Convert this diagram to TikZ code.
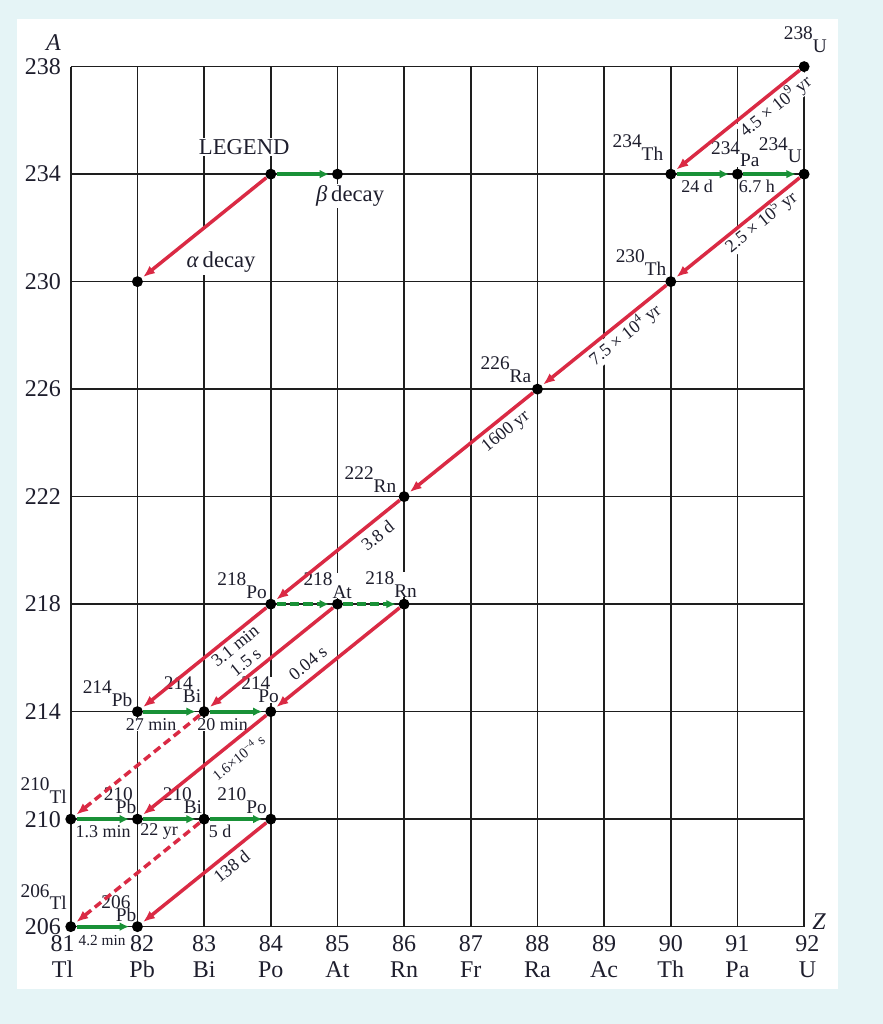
\documentclass[tikz,border=0pt]{standalone}
\usepackage{fontspec}
\setmainfont{Liberation Serif}
\usetikzlibrary{arrows.meta}
\definecolor{bgc}{RGB}{229,244,246}
\definecolor{redc}{RGB}{218,42,68}
\definecolor{grnc}{RGB}{25,145,55}
\definecolor{txtc}{RGB}{30,30,45}
\definecolor{gridc}{RGB}{30,30,30}
\newcommand{\isot}[3][0pt]{\raisebox{9.5pt}{#2}\kern#1\relax #3}
\pgfdeclarelayer{bg}
\pgfdeclarelayer{lab}
\pgfdeclarelayer{top}
\pgfsetlayers{bg,lab,main,top}
\begin{document}
\begin{tikzpicture}[x=50pt,y=20.156pt,
  isodot/.style={circle,fill=black,inner sep=0pt,minimum size=8.2pt},
  adecay/.style={draw=redc,line width=2.6pt,-{Latex[length=9pt,width=7pt]},shorten >=1pt},
  adecayd/.style={adecay,dash pattern=on 6pt off 3.5pt},
  bdecay/.style={draw=grnc,line width=3pt,-{Latex[length=7pt,width=6.5pt]},shorten >=2pt},
  bdecayd/.style={bdecay,dash pattern=on 7pt off 3pt},
  isol/.style={font=\fontsize{14.5}{14.5}\selectfont,text=txtc,inner sep=0pt,fill=white,anchor=south east},
  tlab/.style={font=\fontsize{13.5}{13.5}\selectfont,text=txtc,inner sep=0.5pt,fill=white},
  rlab/.style={tlab,rotate=38.88},
  axlab/.style={font=\fontsize{18}{18}\selectfont,text=txtc,inner sep=0pt},
  leglab/.style={font=\fontsize{17}{17}\selectfont,text=txtc,inner sep=1pt,fill=white},
  gridl/.style={draw=gridc,line width=1.25pt}
]
\useasboundingbox (79.9395,202.38) rectangle (93.184,240.482);

% dots
\begin{pgfonlayer}{top}
\foreach \n/\z/\a in {U238/92/238, Th234/90/234, Pa234/91/234, U234/92/234, Th230/90/230,
  Ra226/88/226, Rn222/86/222, Po218/84/218, At218/85/218, Rn218/86/218,
  Pb214/82/214, Bi214/83/214, Po214/84/214, Tl210/81/210, Pb210/82/210,
  Bi210/83/210, Po210/84/210, Tl206/81/206, Pb206/82/206, L1/84/234, L2/85/234, L3/82/230}
  \node[isodot] (\n) at (\z,\a) {};
\end{pgfonlayer}

% background and grid
\begin{pgfonlayer}{bg}
\fill[bgc] (79.9395,202.38) rectangle (93.184,240.482);
\fill[white] (80.195,203.68) rectangle (92.509,239.775);
\foreach \z in {81,...,92} \draw[gridl] (\z,206) -- (\z,238);
\foreach \a in {206,210,...,238} \draw[gridl] (81,\a) -- (92,\a);
\end{pgfonlayer}

% labels
\begin{pgfonlayer}{lab}
\foreach \a in {206,210,...,238} \node[axlab,anchor=east] (ya\a) at (80.855,\a) {\a};
\node[axlab,anchor=east] (yA) at (80.855,238.9) {\textit{A}};
\foreach \z/\x/\e in {81/80.877/Tl, 82/82.07/Pb, 83/83/Bi, 84/84/Po, 85/85/At, 86/86/Rn,
  87/87/Fr, 88/88/Ra, 89/89/Ac, 90/90/Th, 91/91/Pa, 92/92.05/U} {
  \node[axlab,anchor=base] (zn\z) at (\x,205.06) {\z};
  \node[axlab,anchor=base] (ze\z) at (\x,204.09) {\e};
}
\node[axlab] (zZ) at (92.224,206.17) {\textit{Z}};

% legend
\node[leglab] (legend) at (83.602,235.01) {LEGEND};
\node[leglab] (lbeta) at (85.19,233.19) {\textit{β}\,decay};
\node[leglab,anchor=base,inner sep=0pt,text height=29pt,text depth=5pt] (lalpha) at (83.255,230.51) {\textit{α}\,decay};

% isotope labels
\node[isol,xshift=17.25pt,yshift=10.3pt] (nU238) at (U238) {\isot{238}{U}};
\node[isol,xshift=-5.5pt,yshift=10.3pt] (nTh234) at (Th234) {\isot{234}{Th}};
\node[isol,xshift=16.7pt,yshift=5pt] (nPa234) at (Pa234) {\isot{234}{Pa}};
\node[isol,xshift=-1.5pt,yshift=8pt] (nU234) at (U234) {\isot{234}{U}};
\node[isol,xshift=-3.2pt,yshift=4.5pt] (nTh230) at (Th230) {\isot{230}{Th}};
\node[isol,xshift=-4.5pt,yshift=4.9pt] (nRa226) at (Ra226) {\isot{226}{Ra}};
\node[isol,xshift=-5.7pt,yshift=3pt] (nRn222) at (Rn222) {\isot{222}{Rn}};
\node[isol,xshift=-2.8pt,yshift=4.1pt] (nPo218) at (Po218) {\isot{218}{Po}};
\node[isol,xshift=11pt,yshift=4.1pt] (nAt218) at (At218) {\isot{218}{At}};
\node[isol,xshift=9.75pt,yshift=4.9pt] (nRn218) at (Rn218) {\isot{218}{Rn}};
\node[isol,xshift=-3.75pt,yshift=3.5pt] (nPb214) at (Pb214) {\isot{214}{Pb}};
\node[isol,xshift=-2pt,yshift=6.5pt] (nBi214) at (Bi214) {\isot[-7.5pt]{214}{Bi}};
\node[isol,xshift=6.2pt,yshift=6.5pt] (nPo214) at (Po214) {\isot[-9pt]{214}{Po}};
\node[isol,xshift=-2.8pt,yshift=11.6pt] (nTl210) at (Tl210) {\isot{210}{Tl}};
\node[isol,xshift=-0.75pt,yshift=4.1pt] (nPb210) at (Pb210) {\isot[-12.75pt]{210}{Pb}};
\node[isol,xshift=-1.3pt,yshift=4.1pt] (nBi210) at (Bi210) {\isot[-6pt]{210}{Bi}};
\node[isol,xshift=-2.8pt,yshift=4.1pt] (nPo210) at (Po210) {\isot{210}{Po}};
\node[isol,xshift=-2.8pt,yshift=12.5pt] (nTl206) at (Tl206) {\isot{206}{Tl}};
\node[isol,xshift=-0.75pt,yshift=3.5pt] (nPb206) at (Pb206) {\isot[-11pt]{206}{Pb}};

% beta half-lives
\node[tlab] (t1) at (90.394,233.54) {24 d};
\node[tlab] (t2) at (91.29,233.54) {6.7 h};
\node[tlab] (t3) at (82.204,213.52) {27 min};
\node[tlab] (t4) at (83.277,213.52) {20 min};
\node[tlab] (t5) at (81.484,209.54) {1.3 min};
\node[tlab] (t6) at (82.324,209.54) {22 yr};
\node[tlab] (t7) at (83.239,209.54) {5 d};
\node[tlab,font=\fontsize{11.5}{11.5}\selectfont] (t8) at (81.47,205.5) {4.2 min};

% alpha half-lives
\node[rlab] (h1) at (91.571,236.52) {4.5 × 10\textsuperscript{9} yr};
\node[rlab] (h2) at (91.354,232.22) {2.5 × 10\textsuperscript{5} yr};
\node[rlab] (h3) at (89.314,228.02) {7.5 × 10\textsuperscript{4} yr};
\node[rlab] (h4) at (87.53,224.41) {1600 yr};
\node[rlab] (h5) at (85.60,220.54) {3.8 d};
\node[rlab] (h6) at (83.464,216.44) {3.1 min};
\node[rlab] (h7) at (83.622,215.85) {1.5 s};
\node[rlab] (h8) at (84.559,215.81) {0.04 s};
\node[rlab,font=\fontsize{11}{11}\selectfont] (h9) at (83.509,212.31) {1.6×10\textsuperscript{−4} s};
\node[rlab] (h10) at (83.412,208.24) {138 d};
\end{pgfonlayer}

% alpha decays
\draw[adecay] (U238) -- (Th234);
\draw[adecay] (U234) -- (Th230);
\draw[adecay] (Th230) -- (Ra226);
\draw[adecay] (Ra226) -- (Rn222);
\draw[adecay] (Rn222) -- (Po218);
\draw[adecay] (Po218) -- (Pb214);
\draw[adecay] (At218) -- (Bi214);
\draw[adecay] (Rn218) -- (Po214);
\draw[adecay] (Po214) -- (Pb210);
\draw[adecay] (Po210) -- (Pb206);
\draw[adecay] (L1) -- (L3);
\draw[adecayd] (Bi214) -- (Tl210);
\draw[adecayd] (Bi210) -- (Tl206);

% beta decays
\draw[bdecay] (Th234) -- (Pa234);
\draw[bdecay] (Pa234) -- (U234);
\draw[bdecay] (Pb214) -- (Bi214);
\draw[bdecay] (Bi214) -- (Po214);
\draw[bdecay] (Tl210) -- (Pb210);
\draw[bdecay] (Pb210) -- (Bi210);
\draw[bdecay] (Bi210) -- (Po210);
\draw[bdecay] (Tl206) -- (Pb206);
\draw[bdecay] (L1) -- (L2);
\draw[bdecayd] (Po218) -- (At218);
\draw[bdecayd] (At218) -- (Rn218);
\end{tikzpicture}
\end{document}
